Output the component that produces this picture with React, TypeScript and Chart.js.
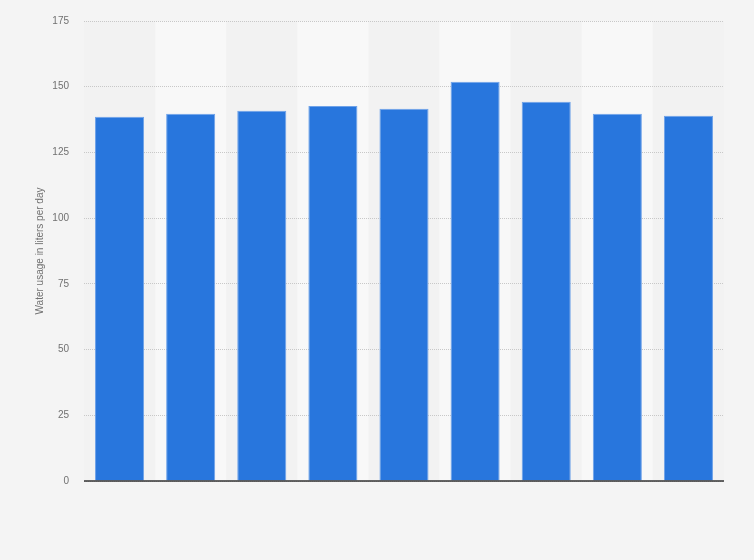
import React, { useEffect, useRef } from "react";
import { Chart, registerables } from "chart.js";

Chart.register(...registerables);

const categories = ["2011", "2012", "2013", "2014", "2015", "2016", "2017", "2018", "2019"];
const usage = [138.6, 139.7, 140.9, 142.7, 141.6, 151.9, 144.3, 139.7, 139.0];
const yTicks = [0, 25, 50, 75, 100, 125, 150, 175];
const yTitle = "Water usage in liters per day";

const bandPlugin = {
  id: "bands",
  beforeDraw(chart: any) {
    const { ctx, chartArea, scales } = chart;
    const x = scales.x;
    ctx.save();
    const half = (x.getPixelForValue(1) - x.getPixelForValue(0)) / 2;
    for (let i = 0; i < categories.length; i++) {
      const c = x.getPixelForValue(i);
      ctx.fillStyle = i % 2 === 1 ? "#f8f8f8" : "#f2f2f2";
      ctx.fillRect(c - half, chartArea.top, half * 2, chartArea.bottom - chartArea.top);
    }
    ctx.restore();
  },
  afterDatasetsDraw(chart: any) {
    const { ctx, chartArea } = chart;
    ctx.save();
    ctx.strokeStyle = "#333333";
    ctx.lineWidth = 1.5;
    ctx.beginPath();
    ctx.moveTo(chartArea.left, chartArea.bottom);
    ctx.lineTo(chartArea.right, chartArea.bottom);
    ctx.stroke();
    ctx.restore();
  },
};

export default function App() {
  const ref = useRef<HTMLCanvasElement | null>(null);
  useEffect(() => {
    if (!ref.current) return;
    const chart = new Chart(ref.current, {
      type: "bar",
      data: {
        labels: categories,
        datasets: [
          {
            data: usage,
            backgroundColor: "#2876dd",
            borderColor: "#6ea2e9",
            borderWidth: 1,
            barPercentage: 0.69,
            categoryPercentage: 1,
          },
        ],
      },
      plugins: [bandPlugin],
      options: {
        animation: false,
        responsive: false,
        devicePixelRatio: 1,
        layout: { padding: { top: 20, right: 30, bottom: 79, left: 0 } },
        plugins: { legend: { display: false }, tooltip: { enabled: false } },
        scales: {
          x: {
            ticks: { display: false },
            grid: { display: false, drawTicks: false },
            border: { display: false },
          },
          y: {
            min: 0,
            max: 175,
            afterBuildTicks(scale: any) {
              scale.ticks = yTicks.map((v) => ({ value: v }));
            },
            afterFit(scale: any) {
              scale.width = 84;
            },
            ticks: {
              padding: 15,
              color: "#707070",
              font: { family: "'Liberation Sans', Arial, sans-serif", size: 10 },
            },
            grid: { color: "#c8c8c8", drawTicks: false, lineWidth: 1 },
            border: { display: false, dash: [1, 1] },
            title: {
              display: true,
              text: yTitle,
              color: "#707070",
              font: { family: "'Liberation Sans', Arial, sans-serif", size: 10 },
              padding: { top: 34, bottom: 0 },
            },
          },
        },
      },
    });
    return () => chart.destroy();
  }, []);
  return (
    <div style={{ position: "absolute", left: 0, top: 0, width: 754, height: 560, background: "#f4f4f4" }}>
      <canvas ref={ref} width={754} height={560} style={{ width: 754, height: 560 }} />
    </div>
  );
}
